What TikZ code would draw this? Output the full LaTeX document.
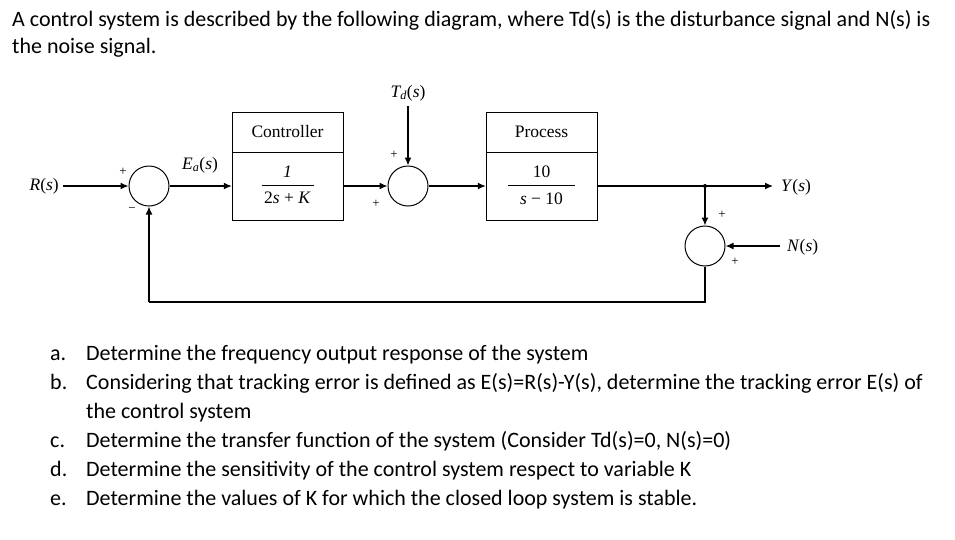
\documentclass[tikz,border=0pt]{standalone}
\usepackage{fontspec}
\setmainfont{Carlito}
\newfontfamily\dia{Liberation Serif}
\usetikzlibrary{arrows.meta}
\begin{document}
\begin{tikzpicture}[x=1pt,y=-1pt,
  sum/.style={circle,draw,line width=1pt,minimum size=40pt,inner sep=0pt},
  blk/.style={draw,line width=1pt},
  sig/.style={line width=1.3pt,-{Latex[length=8pt,width=7pt]}},
  wire/.style={line width=1.3pt},
  lab/.style={font=\dia\fontsize{17.5}{19}\selectfont,inner sep=1pt},
  sgn/.style={font=\dia\fontsize{13}{13}\selectfont,inner sep=0pt},
  txt/.style={font=\fontsize{22}{26}\selectfont,anchor=base west,inner sep=0pt}]
\useasboundingbox (0,0) rectangle (955,539);
% heading
\node[txt] (h1) at (12,26) {A control system is described by the following diagram, where Td(s) is the disturbance signal and N(s) is};
\node[txt] (h2) at (12,53) {the noise signal.};
% blocks
\node[sum] (s1) at (149,186) {};
\node[sum] (s2) at (408,186) {};
\node[sum] (s3) at (705,246) {};
\draw[blk] (232,112) rectangle (343,220);
\draw[blk] (232,152) -- (343,152);
\node[lab] (ctl) at (287.5,132) {Controller};
\node[lab] (cn) at (287.5,172) {\textit{1}};
\node[lab] (cd) at (287.5,198) {2\textit{s} + \textit{K}};
\draw[line width=0.8pt] (262,185) -- (314,185);
\node[inner sep=0pt,minimum width=111pt,minimum height=108pt] (C) at (287.5,166) {};
\draw[blk] (486,112) rectangle (597,220);
\draw[blk] (486,152) -- (597,152);
\node[lab] (prc) at (541.5,132) {Process};
\node[lab] (pn) at (541.5,172) {10};
\node[lab] (pd) at (541.5,199) {\textit{s} − 10};
\draw[line width=0.8pt] (508,185) -- (575,185);
\node[inner sep=0pt,minimum width=111pt,minimum height=108pt] (P) at (541.5,166) {};
% labels
\node[lab,anchor=east] (R) at (60,186) {\textit{R}(\textit{s})};
\node[lab] (E) at (200,165) {\textit{E\textsubscript{a}}(\textit{s})};
\node[lab] (T) at (408,93) {\textit{T\textsubscript{d}}(\textit{s})};
\node[lab,anchor=west] (Y) at (780,187) {\textit{Y}(\textit{s})};
\node[lab,anchor=west] (N) at (786,247) {\textit{N}(\textit{s})};
\coordinate (b) at (705,186);
\coordinate (yend) at (773,186);
\coordinate (ttop) at (408,106);
\coordinate (nst) at (780,246);
\coordinate (c1) at (705,302);
\coordinate (c2) at (149,302);
% wires
\draw[sig] (R.east) ++(3,0) -- (s1.west);
\draw[sig] (s1.east) -- (C.west |- s1.east);
\draw[sig] (C.east |- s2.west) -- (s2.west);
\draw[sig] (ttop) -- (s2.north);
\draw[sig] (s2.east) -- (P.west |- s2.east);
\draw[sig] (P.east |- b) -- (yend);
\fill (b) circle (2pt);
\draw[sig] (b) -- (s3.north);
\draw[sig] (nst) -- (s3.east);
\draw[wire] (s3.south) -- (c1) -- (c2);
\draw[sig] (c2) -- (s1.south);
% signs
\node[sgn] at (123,172) {+};
\node[sgn] at (132,210) {−};
\node[sgn] at (394,155) {+};
\node[sgn] at (376,204) {+};
\node[sgn] at (722,215) {+};
\node[sgn] at (735,262) {+};
% questions
\node[txt] (la) at (50,360) {a.};
\node[txt] (ta) at (86,360) {Determine the frequency output response of the system};
\node[txt] (lb) at (50,389) {b.};
\node[txt] (tb) at (86,389) {Considering that tracking error is defined as E(s)=R(s)-Y(s), determine the tracking error E(s) of};
\node[txt] (tb2) at (86,418) {the control system};
\node[txt] (lc) at (50,447) {c.};
\node[txt] (tc) at (86,447) {Determine the transfer function of the system (Consider Td(s)=0, N(s)=0)};
\node[txt] (ld) at (50,476) {d.};
\node[txt] (td) at (86,476) {Determine the sensitivity of the control system respect to variable K};
\node[txt] (le) at (50,505) {e.};
\node[txt] (te) at (86,505) {Determine the values of K for which the closed loop system is stable.};
\end{tikzpicture}
\end{document}
